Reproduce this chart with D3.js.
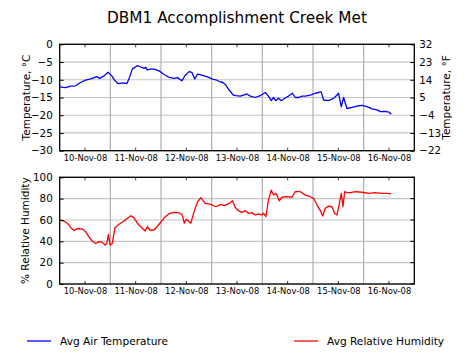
<!DOCTYPE html>
<html><head><meta charset="utf-8">
<script src="https://cdn.jsdelivr.net/npm/d3@7"></script>
<style>body{margin:0;background:#fff}svg{display:block;font-family:"DejaVu Sans",sans-serif}</style>
</head><body>
<svg id="c" width="474" height="355"></svg>
<script>
const title = "DBM1 Accomplishment Creek Met";
const startDate = new Date(2008, 10, 10);
const endDate = new Date(2008, 10, 17);
const tempHours = [0,2.8,5.2,7.6,10.0,12.3,15.5,17.4,19.0,21.0,22.9,24.7,26.2,27.8,30.0,31.8,32.9,34.4,36.8,38.4,40.0,40.8,41.5,43.2,44.7,47.1,49.5,51.8,54.2,55.8,57.9,59.4,61.3,62.6,64.0,65.3,67.3,70.0,72.4,74.0,75.6,77.1,78.7,80.3,82.2,83.5,85.5,87.1,88.7,90.3,92.6,95.0,97.4,98.9,100.2,101.3,102.4,103.7,105.0,106.5,108.4,110.3,111.6,113.2,114.8,116.3,118.7,121.1,123.9,125.0,127.4,129.8,131.4,132.1,133.4,134.5,136.1,138.5,140.9,143.2,145.6,148.0,150.4,151.9,154.3,155.9,157.1];
const tempValues = [-12.0,-12.2,-11.8,-11.7,-10.7,-10.1,-9.6,-9.1,-9.6,-8.9,-7.9,-8.9,-10.3,-11.1,-10.9,-11.1,-9.6,-7.0,-6.0,-6.4,-6.8,-6.5,-7.2,-7.0,-7.0,-7.5,-8.5,-9.3,-9.6,-9.4,-10.3,-8.8,-7.7,-7.9,-9.8,-8.4,-8.7,-9.2,-9.8,-10.0,-10.5,-10.7,-11.5,-12.9,-14.3,-14.5,-14.6,-14.3,-14.0,-14.6,-15.0,-14.5,-13.6,-14.6,-15.9,-15.0,-15.9,-15.2,-15.9,-15.3,-14.6,-13.8,-15.0,-15.0,-14.6,-14.6,-14.3,-13.8,-13.4,-15.7,-15.9,-15.2,-14.3,-13.8,-17.6,-15.0,-18.1,-17.8,-17.4,-17.2,-17.6,-18.2,-18.5,-19.0,-18.9,-19.1,-19.7];
const rhHours = [0,2.0,3.6,5.2,6.8,8.3,10.7,12.3,13.9,15.5,17.1,18.6,20.2,21.5,22.3,23.1,23.9,24.9,26.2,28.1,30.5,32.1,33.7,35.2,36.8,38.4,40.5,41.5,42.7,44.7,47.1,49.5,51.8,54.2,56.6,58.1,59.0,60.0,62.1,63.7,65.3,66.9,68.9,71.6,74.0,76.4,77.9,80.3,81.9,83.1,84.7,86.3,87.9,89.5,91.1,92.6,94.2,95.8,96.6,97.7,98.9,100.2,101.3,102.4,103.4,104.0,105.3,107.7,110.0,111.6,114.0,116.3,118.7,120.3,121.9,123.5,124.6,125.8,127.4,129.0,130.2,131.4,132.5,133.4,134.2,135.0,136.1,137.7,140.1,143.2,146.4,149.5,152.7,155.1,157.1];
const rhValues = [60,59,57,53,50,52,51.5,49,44,40,38,39.7,39,36.5,38,46.6,36.5,38,52.8,56,59,61.6,64,62,57,53.7,49.7,53.7,50.6,50.6,56,62,65.9,67.2,66.6,64.7,57,60.7,57,67.8,77,81,75.6,74.7,72.4,74.7,73.4,75.6,78,72,68.7,67.2,68.7,66.2,66.9,64.7,65.6,64.7,66.3,63.1,78.7,88,83.4,85,81.3,78,81.3,81.8,81.3,86.5,86.5,83.4,81.8,80.3,74,68.7,63.7,71,73,72.4,66.3,64.7,75.6,85,72.4,86.5,85.6,85.6,86.5,86,85,85.6,85,85,84.4];
const tempTicksC = [0,-5,-10,-15,-20,-25,-30];
const tempTicksF = [32,23,14,5,-4,-13,-22];
const rhTicks = [0,20,40,60,80,100];
const legendLabels = ["Avg Air Temperature", "Avg Relative Humidity"];
const colors = ["#0000ff", "#ff0000"];

const svg = d3.select("#c");
const L = 59.7, R = 414.3;
const toDate = h => new Date(startDate.getTime() + h * 3600000);
const x = d3.scaleTime().domain([startDate, endDate]).range([L, R]);
const midnights = d3.timeDay.range(d3.timeDay.offset(startDate, 1), endDate);
const noons = d3.timeDay.range(startDate, endDate).map(d => d3.timeHour.offset(d, 12));
const fmt = d3.timeFormat("%d-%b-%y");

svg.append("text").attr("x", 237).attr("y", 22.5).attr("text-anchor", "middle")
  .attr("font-size", 15.3).text(title);

function panel(top, bottom, yDom, yTicks, ylabel, labelX, hours, vals, color, right) {
  const y = d3.scaleLinear().domain(yDom).range([bottom, top]);
  const g = svg.append("g");
  g.selectAll(".hg").data(yTicks).join("line")
    .attr("x1", L).attr("x2", R).attr("y1", d => y(d)).attr("y2", d => y(d))
    .attr("stroke", "#c4c4c4").attr("stroke-width", 1.2);
  g.selectAll(".vg").data(midnights).join("line")
    .attr("x1", d => x(d)).attr("x2", d => x(d)).attr("y1", top).attr("y2", bottom)
    .attr("stroke", "#a8a8a8").attr("stroke-width", 1.1);
  noons.forEach(d => {
    g.append("line").attr("x1", x(d)).attr("x2", x(d)).attr("y1", top).attr("y2", top + 3).attr("stroke", "#000").attr("stroke-width", 0.8);
    g.append("line").attr("x1", x(d)).attr("x2", x(d)).attr("y1", bottom).attr("y2", bottom - 3).attr("stroke", "#000").attr("stroke-width", 0.8);
  });
  const line = d3.line().x((d, i) => x(toDate(hours[i]))).y((d) => y(d));
  g.append("path").datum(vals).attr("d", line).attr("fill", "none")
    .attr("stroke", color).attr("stroke-width", 1.3).attr("stroke-linejoin", "round");
  const ya = d3.axisLeft(y).tickValues(yTicks).tickSize(-4).tickPadding(7).tickFormat(d3.format("d"));
  const ag = g.append("g").attr("transform", `translate(${L},0)`).call(ya);
  ag.select(".domain").remove();
  ag.selectAll("text").attr("font-size", 10.3).attr("font-family", "DejaVu Sans").attr("fill", "#000");
  const xa = d3.axisBottom(x).tickValues(noons).tickSize(0).tickPadding(4).tickFormat(fmt);
  const xg = g.append("g").attr("transform", `translate(0,${bottom})`).call(xa);
  xg.select(".domain").remove();
  xg.selectAll("text").attr("font-size", 8.4).attr("font-family", "DejaVu Sans").attr("fill", "#000");
  if (!right) {
    g.selectAll(".rt").data(yTicks).join("line")
      .attr("x1", R).attr("x2", R - 4).attr("y1", d => y(d)).attr("y2", d => y(d)).attr("stroke", "#000");
  }
  g.append("rect").attr("x", L).attr("y", top).attr("width", R - L).attr("height", bottom - top)
    .attr("fill", "none").attr("stroke", "#000").attr("stroke-width", 1.3);
  g.append("text").attr("transform", `translate(${labelX},${(top + bottom) / 2}) rotate(-90)`)
    .attr("text-anchor", "middle").attr("font-size", 10.5).text(ylabel);
  if (right) {
    const yF = d3.scaleLinear().domain([right.ticks[right.ticks.length - 1], right.ticks[0]]).range([bottom, top]);
    const ra = d3.axisRight(yF).tickValues(right.ticks).tickSize(-4).tickPadding(5).tickFormat(d3.format("d"));
    const rg = g.append("g").attr("transform", `translate(${R},0)`).call(ra);
    rg.select(".domain").remove();
    rg.selectAll("text").attr("font-size", 10.3).attr("font-family", "DejaVu Sans").attr("fill", "#000");
    g.append("text").attr("transform", `translate(${R + 35.5},${(top + bottom) / 2}) rotate(-90)`)
      .attr("text-anchor", "middle").attr("font-size", 10.5).text(right.label);
  }
}

panel(44.3, 150.7, [-30, 0], tempTicksC, "Temperature, °C", 30, tempHours, tempValues, colors[0],
  {ticks: tempTicksF, label: "Temperature, °F"});
panel(177.3, 284, [0, 100], rhTicks, "% Relative Humidity", 28.5, rhHours, rhValues, colors[1], null);

const legX = [27, 294];
legendLabels.forEach((t, i) => {
  svg.append("line").attr("x1", legX[i]).attr("x2", legX[i] + 24).attr("y1", 341).attr("y2", 341)
    .attr("stroke", colors[i]).attr("stroke-width", 1.3);
  svg.append("text").attr("x", legX[i] + 33).attr("y", 345).attr("font-size", 10.6).text(t);
});
</script>
</body></html>
